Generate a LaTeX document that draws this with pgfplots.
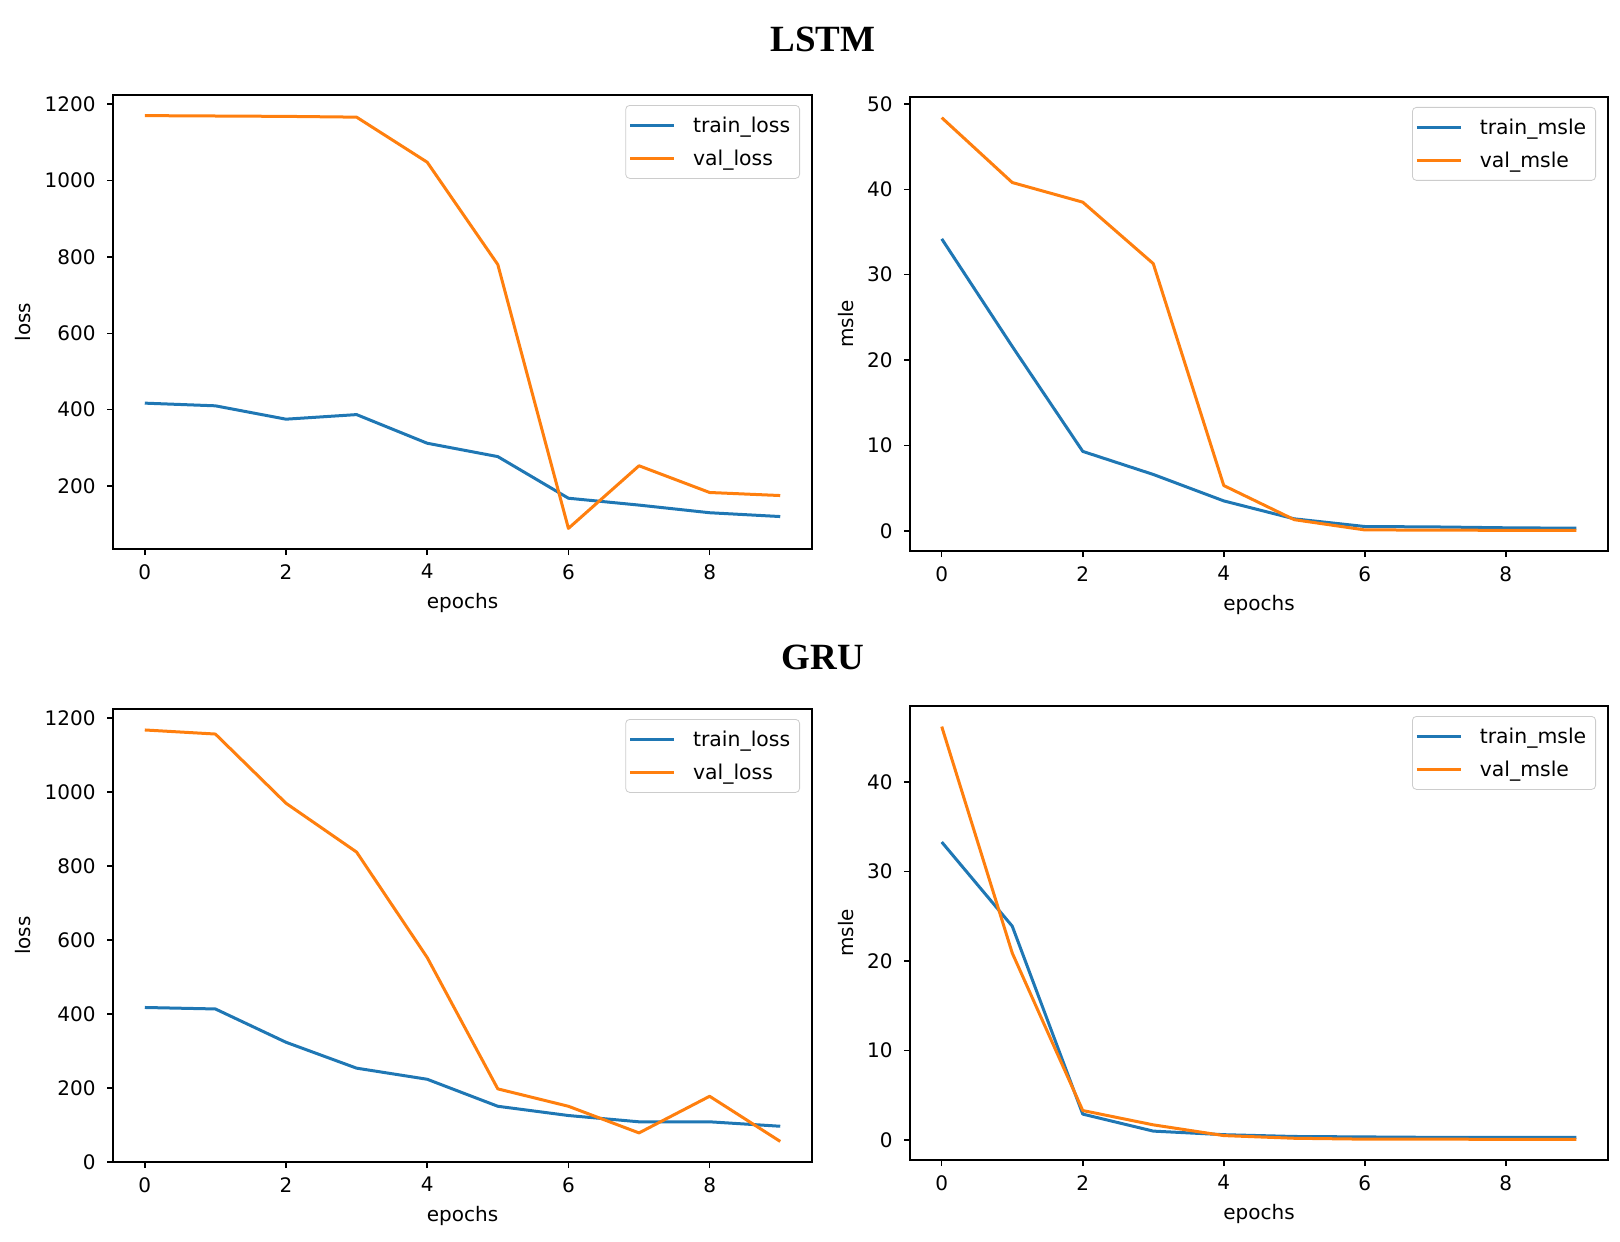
\documentclass[border=0pt]{standalone}
\usepackage{pgfplots}
\pgfplotsset{compat=1.18}
\usepackage{fontspec}
\setmainfont{DejaVu Sans}
\newfontfamily\titlefont{Liberation Serif}
\definecolor{mplblue}{RGB}{31,119,180}
\definecolor{mplorange}{RGB}{255,127,14}

\pgfplotsset{
  mpl/.style={
    scale only axis,
    width=349.5pt, height=227pt,
    xmin=-0.45, xmax=9.45,
    xtick={0,2,4,6,8},
    axis line style={line width=0.75pt},
    tick style={black, line width=0.75pt},
    tick align=outside,
    major tick length=3pt,
    xtick pos=left, ytick pos=left,
    font=\fontsize{10pt}{12pt}\selectfont,
    /pgf/number format/assume math mode=true,
    /pgf/number format/1000 sep={},
    xticklabel style={anchor=north, inner sep=0pt, yshift=-4.5pt},
    yticklabel style={anchor=east, inner sep=0pt, xshift=-5.5pt},
    xlabel=epochs,
    every axis x label/.style={at={(rel axis cs:0.5,-0.119)}, anchor=center},
    legend style={at={(rel axis cs:1,1)}, anchor=north east,
      xshift=-6pt, yshift=-5pt, draw=black!20, rounded corners=2pt,
      fill=white, inner xsep=1.5pt, inner ysep=3pt, row sep=2.5pt,
      column sep=5.5pt,
      nodes={inner xsep=3.2pt, inner ysep=2pt, text height=8.5pt, text depth=1.5pt},
      font=\fontsize{10.2pt}{12pt}\selectfont},
    legend cell align=left,
    legend image code/.code={\draw[##1] (0pt,0pt) -- (22pt,0pt);},
    every axis plot/.append style={line width=1.5pt, line join=round},
  },
  wideticks/.style={every axis y label/.style={at={(rel axis cs:-0.1288,0.5)}, anchor=center, rotate=90}},
  narrowticks/.style={every axis y label/.style={at={(rel axis cs:-0.0917,0.5)}, anchor=center, rotate=90}},
}

\begin{document}
\begin{tikzpicture}
\path (0,0) rectangle (810pt,-620.5pt);
\node[font=\fontsize{18.5pt}{21pt}\selectfont\titlefont\bfseries] at (411.5pt,-19.5pt) {LSTM};
\node[font=\fontsize{18.5pt}{21pt}\selectfont\titlefont\bfseries] at (411.5pt,-328.5pt) {GRU};

% LSTM loss
\begin{axis}[mpl, wideticks, at={(56.5pt,-274.5pt)}, anchor=south west,
  ymin=35, ymax=1224, ytick={200,400,600,800,1000,1200}, ylabel=loss]
\addplot[mplblue] coordinates {(0,417) (1,410) (2,375) (3,387) (4,312) (5,277) (6,168) (7,150) (8,130) (9,120)};
\addlegendentry{train\_loss}
\addplot[mplorange] coordinates {(0,1170) (1,1169) (2,1168) (3,1166) (4,1048) (5,780) (6,89) (7,253) (8,183) (9,175)};
\addlegendentry{val\_loss}
\end{axis}

% LSTM msle
\begin{axis}[mpl, narrowticks, at={(455pt,-275.5pt)}, anchor=south west, width=349pt,
  ymin=-2.37, ymax=50.82, ytick={0,10,20,30,40,50}, ylabel=msle]
\addplot[mplblue] coordinates {(0,34.2) (1,21.6) (2,9.3) (3,6.6) (4,3.5) (5,1.4) (6,0.5) (7,0.45) (8,0.35) (9,0.3)};
\addlegendentry{train\_msle}
\addplot[mplorange] coordinates {(0,48.4) (1,40.8) (2,38.5) (3,31.3) (4,5.3) (5,1.3) (6,0.1) (7,0.08) (8,0.05) (9,0.05)};
\addlegendentry{val\_msle}
\end{axis}

% GRU loss
\begin{axis}[mpl, wideticks, at={(56.5pt,-581pt)}, anchor=south west, height=226.5pt,
  ymin=-0.65, ymax=1223.65, ytick={0,200,400,600,800,1000,1200}, ylabel=loss]
\addplot[mplblue] coordinates {(0,417) (1,413) (2,323) (3,253) (4,223) (5,150) (6,125) (7,108) (8,108) (9,96)};
\addlegendentry{train\_loss}
\addplot[mplorange] coordinates {(0,1167) (1,1156) (2,969) (3,837) (4,552) (5,197) (6,150) (7,78) (8,177) (9,55)};
\addlegendentry{val\_loss}
\end{axis}

% GRU msle
\begin{axis}[mpl, narrowticks, at={(455pt,-580pt)}, anchor=south west, width=349pt,
  ymin=-2.23, ymax=48.5, ytick={0,10,20,30,40}, ylabel=msle]
\addplot[mplblue] coordinates {(0,33.3) (1,23.9) (2,2.9) (3,1.0) (4,0.6) (5,0.4) (6,0.35) (7,0.3) (8,0.3) (9,0.3)};
\addlegendentry{train\_msle}
\addplot[mplorange] coordinates {(0,46.2) (1,20.9) (2,3.3) (3,1.7) (4,0.5) (5,0.2) (6,0.1) (7,0.1) (8,0.08) (9,0.08)};
\addlegendentry{val\_msle}
\end{axis}
\end{tikzpicture}
\end{document}
